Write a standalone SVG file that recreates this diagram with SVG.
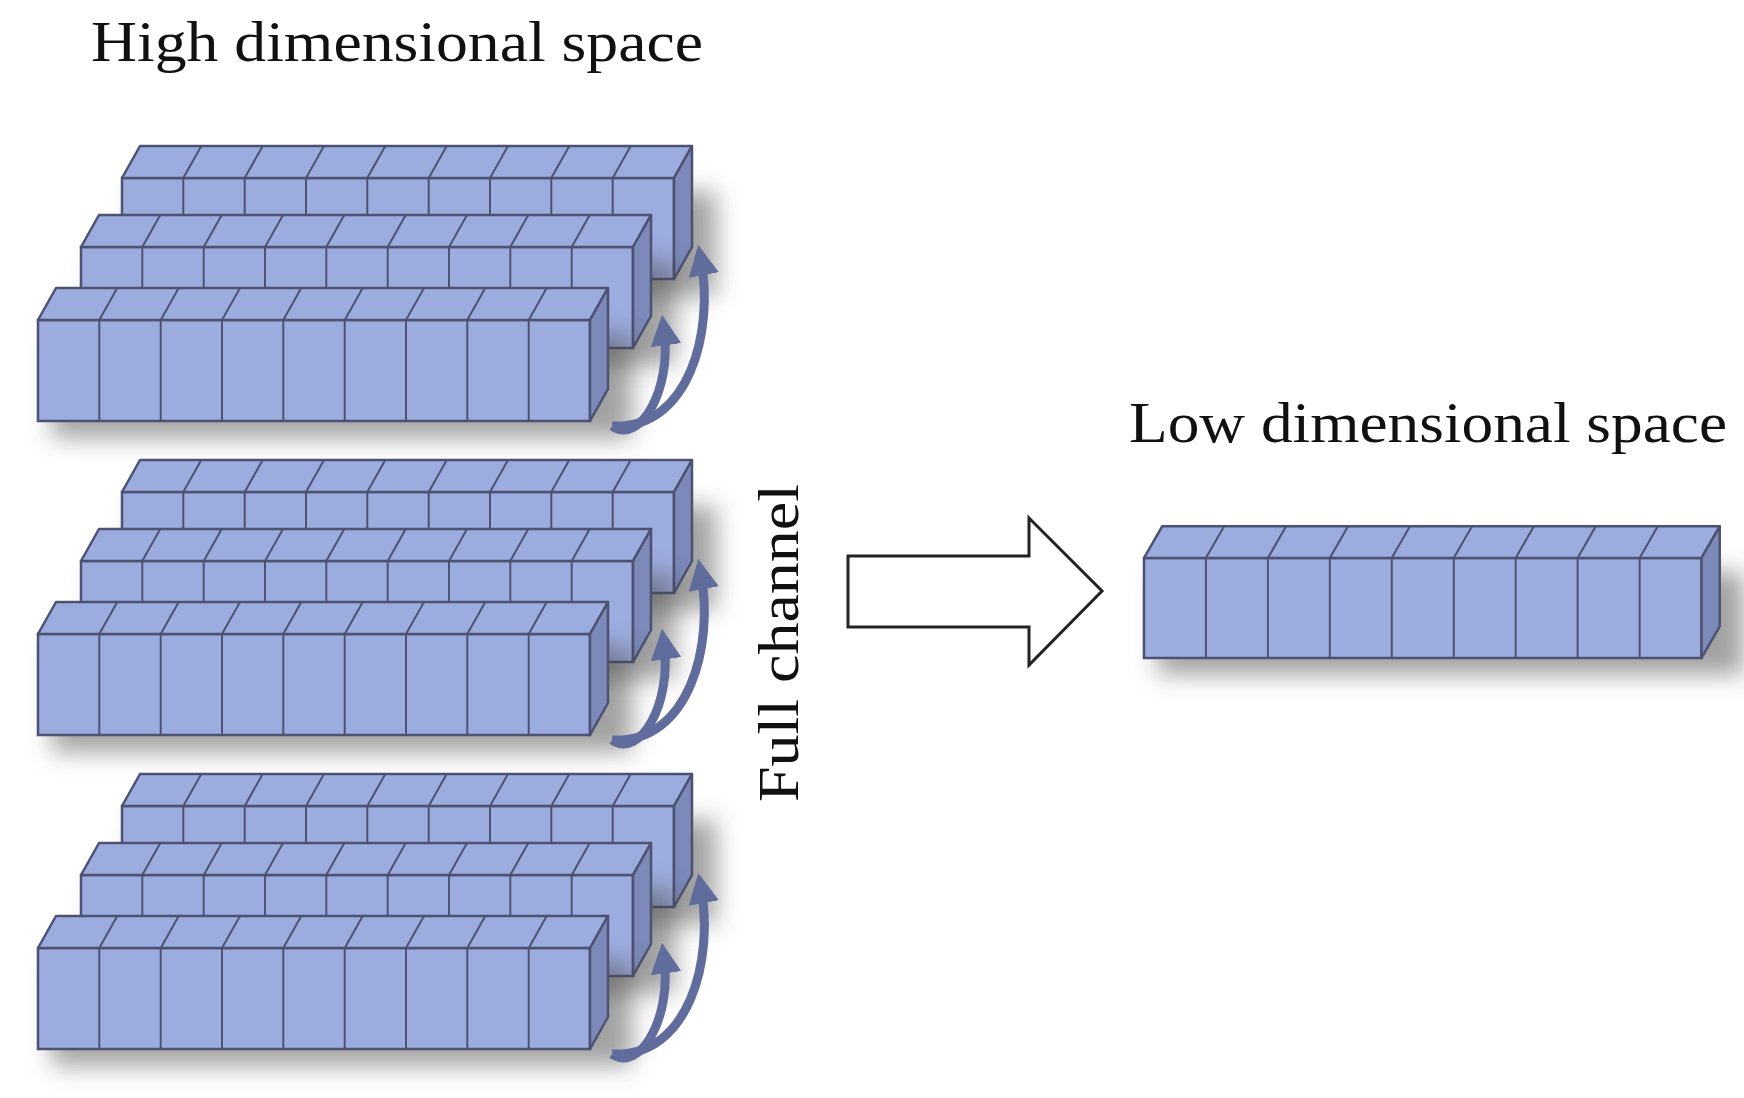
<svg xmlns="http://www.w3.org/2000/svg" xmlns:xlink="http://www.w3.org/1999/xlink" width="1744" height="1098" viewBox="0 0 1744 1098">
<style>
.f{fill:#9dacdf;stroke:#4b5272;stroke-width:2.5}
.t{fill:#9dacdf;stroke:#4b5272;stroke-width:2.5;stroke-linejoin:round}
.s{fill:#7c89b9;stroke:#4b5272;stroke-width:2.5;stroke-linejoin:round}
.c{stroke:#4b5272;stroke-width:2}
.lbl{font-family:"Liberation Serif","Times New Roman",serif;fill:#111}
.ca{fill:none;stroke:#5f6c9c;stroke-width:9;marker-end:url(#ah)}
</style>
<defs>
<filter id="blur" x="-20%" y="-50%" width="140%" height="200%"><feGaussianBlur stdDeviation="12"/></filter>
<marker id="ah" markerWidth="3.4" markerHeight="3.4" refX="1.7" refY="1.7" orient="auto"><path d="M0,0 L3.4,1.7 L0,3.4 Z" fill="#5f6c9c"/></marker>
<g id="row">
<rect x="14" y="14" width="580" height="104" fill="#444" opacity="0.5" filter="url(#blur)"/>
<rect class="f" x="0" y="0" width="552" height="101"/>
<polygon class="t" points="0,0 18,-32 570,-32 552,0"/>
<polygon class="s" points="552,0 570,-32 570,69 552,101"/>
<g class="c">
<line x1="61.3" y1="0" x2="61.3" y2="101"/><line x1="122.7" y1="0" x2="122.7" y2="101"/><line x1="184" y1="0" x2="184" y2="101"/><line x1="245.3" y1="0" x2="245.3" y2="101"/><line x1="306.7" y1="0" x2="306.7" y2="101"/><line x1="368" y1="0" x2="368" y2="101"/><line x1="429.3" y1="0" x2="429.3" y2="101"/><line x1="490.7" y1="0" x2="490.7" y2="101"/>
<line x1="61.3" y1="0" x2="79.3" y2="-32"/><line x1="122.7" y1="0" x2="140.7" y2="-32"/><line x1="184" y1="0" x2="202" y2="-32"/><line x1="245.3" y1="0" x2="263.3" y2="-32"/><line x1="306.7" y1="0" x2="324.7" y2="-32"/><line x1="368" y1="0" x2="386" y2="-32"/><line x1="429.3" y1="0" x2="447.3" y2="-32"/><line x1="490.7" y1="0" x2="508.7" y2="-32"/>
</g>
</g>
<g id="stack">
<use xlink:href="#row" x="122" y="178"/>
<use xlink:href="#row" x="81" y="247"/>
<use xlink:href="#row" x="38" y="320"/>
</g>
<g id="curves">
<path class="ca" d="M612 426 C640 445 672 390 664 330"/>
<path class="ca" d="M612 426 C690 430 714 330 701 260"/>
</g>
</defs>
<text class="lbl" x="91" y="61" font-size="56" textLength="612" lengthAdjust="spacingAndGlyphs">High dimensional space</text>
<g id="group1"><use xlink:href="#stack"/></g>
<g id="group2"><use xlink:href="#stack" y="314"/></g>
<g id="group3"><use xlink:href="#stack" y="628"/></g>
<g id="connectors">
<use xlink:href="#curves"/><use xlink:href="#curves" y="314"/><use xlink:href="#curves" y="628"/>
<polygon points="848,556 1029,556 1029,518 1102,591 1029,665 1029,627 848,627" fill="#fff" stroke="#222" stroke-width="3"/>
</g>
<text class="lbl" font-size="56" transform="translate(798,802) rotate(-90)" textLength="318" lengthAdjust="spacingAndGlyphs">Full channel</text>
<text class="lbl" x="1129" y="442" font-size="56" textLength="598" lengthAdjust="spacingAndGlyphs">Low dimensional space</text>
<g id="low"><use xlink:href="#row" x="1144" y="558" transform="translate(1144 558) scale(1.01 0.99) translate(-1144 -558)"/></g>
</svg>
